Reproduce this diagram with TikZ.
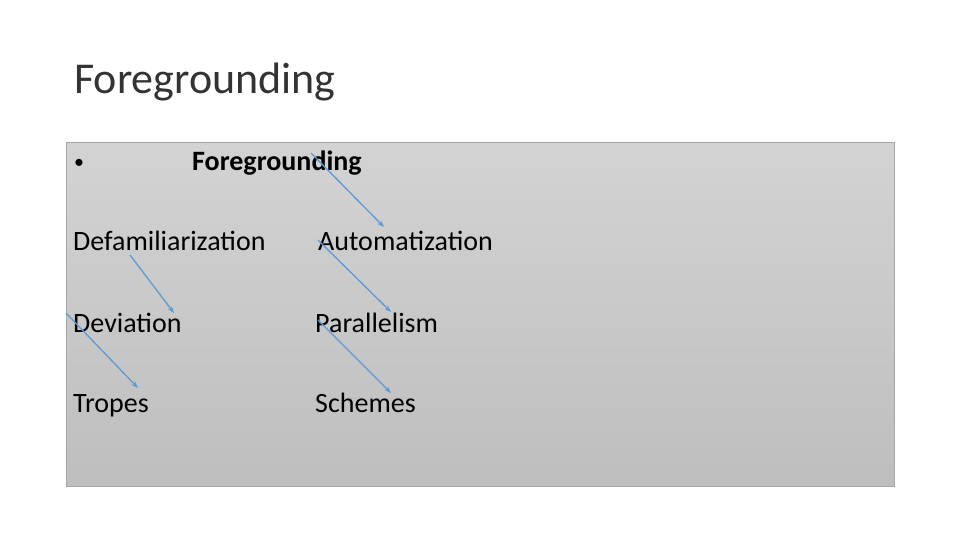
\documentclass[tikz,border=0pt]{standalone}
\usepackage{fontspec}
\setmainfont{Carlito}
\usetikzlibrary{arrows.meta}
\definecolor{arrowblue}{HTML}{5B9BD5}
\definecolor{boxtop}{HTML}{D3D3D3}
\definecolor{boxbot}{HTML}{BEBEBE}
\definecolor{boxline}{HTML}{A6A6A6}
\begin{document}
\begin{tikzpicture}[x=1pt,y=-1pt,
  body/.style={anchor=base west,inner sep=0pt,font=\fontsize{28}{32}\selectfont,text=black},
  link/.style={draw=arrowblue,line width=1.3pt,-{Stealth[length=7pt,width=5pt]}}]
\useasboundingbox (0,0) rectangle (960,540);
\fill[white] (0,0) rectangle (960,540);
\shade[top color=boxtop,bottom color=boxbot,draw=boxline,line width=1pt] (66,143) rectangle (894,486);
\node[anchor=base west,inner sep=0pt,font=\fontsize{44}{50}\selectfont,text=black!80] (title) at (74,94) {Foregrounding};
\node[anchor=base west,inner sep=0pt,font=\fontsize{20}{24}\selectfont] (bullet) at (74,168) {•};
\node[body,font=\fontsize{28}{32}\selectfont\bfseries] (fg) at (192,171) {Foregrounding};
\node[body] (defam) at (73,250) {Defamiliarization};
\node[body] (autom) at (318,250) {Automatization};
\node[body] (devia) at (73,332) {Deviation};
\node[body] (paral) at (315,332) {Parallelism};
\node[body] (trope) at (73,412) {Tropes};
\node[body] (schem) at (315,412) {Schemes};
\coordinate (a1s) at (311,153); \coordinate (a1e) at (384,227);
\coordinate (a2s) at (130,255); \coordinate (a2e) at (174,313);
\coordinate (a3s) at (318,240); \coordinate (a3e) at (391,312);
\coordinate (a4s) at (66,313);  \coordinate (a4e) at (138,388);
\coordinate (a5s) at (318,320); \coordinate (a5e) at (391,393);
\draw[link] (a1s) -- (a1e);
\draw[link] (a2s) -- (a2e);
\draw[link] (a3s) -- (a3e);
\draw[link] (a4s) -- (a4e);
\draw[link] (a5s) -- (a5e);
\end{tikzpicture}
\end{document}
